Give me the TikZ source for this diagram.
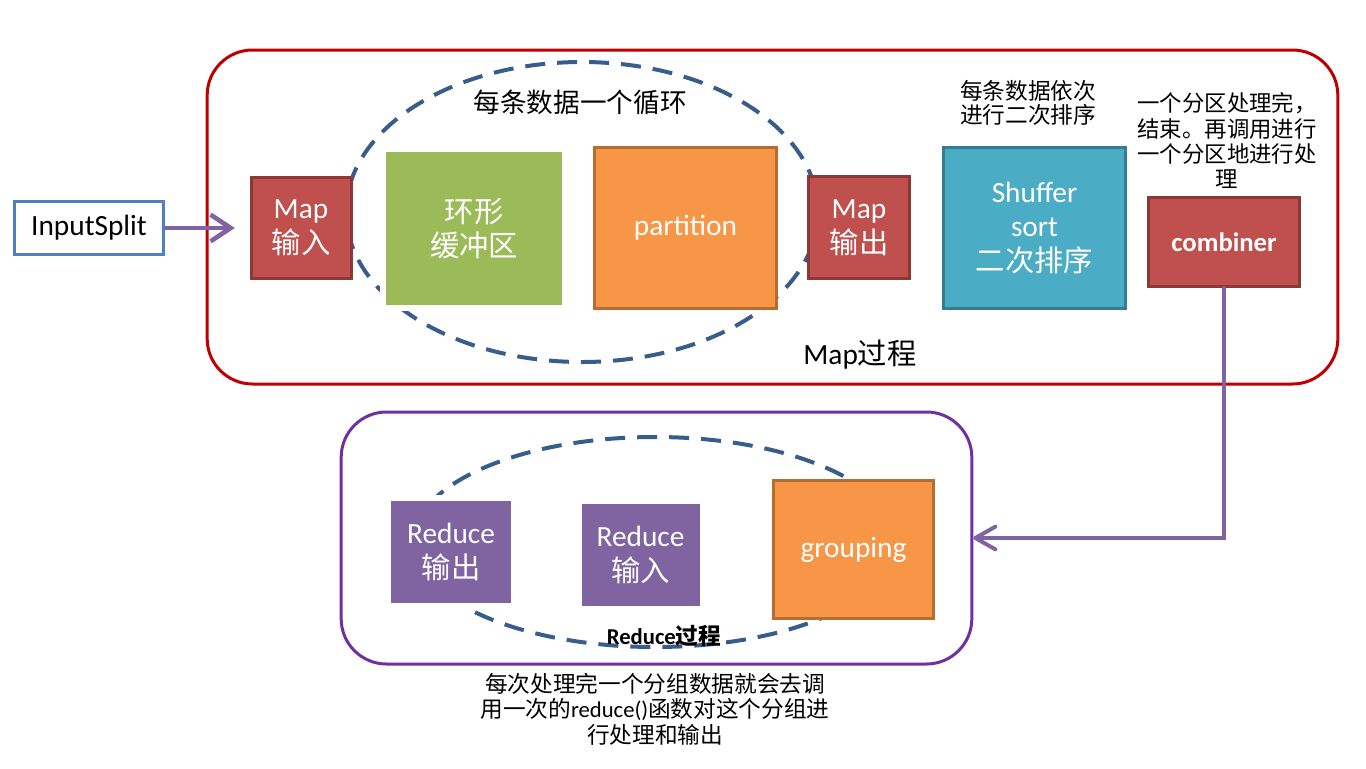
\documentclass[tikz,border=0pt]{standalone}
\usepackage{fontspec}
\setmainfont{Carlito}
\newfontfamily\cjk{Noto Sans CJK SC}
\usetikzlibrary{arrows.meta,shadows,calc}
\definecolor{mapred}{HTML}{C0504D}
\definecolor{mapredb}{HTML}{8C3836}
\definecolor{outred}{HTML}{C00000}
\definecolor{grn}{HTML}{9BBB59}
\definecolor{org}{HTML}{F79646}
\definecolor{orgb}{HTML}{B66D31}
\definecolor{cyn}{HTML}{4BACC6}
\definecolor{cynb}{HTML}{357D91}
\definecolor{pur}{HTML}{8064A2}
\definecolor{purb}{HTML}{7030A0}
\definecolor{blu}{HTML}{4F81BD}
\definecolor{dsh}{HTML}{385D8A}
\begin{document}
\begin{tikzpicture}[x=0.75pt,y=-0.75pt,
  lbl/.style={text=white,align=center,font=\fontsize{22}{26}\selectfont,inner sep=0pt},
  redbox/.style={lbl,fill=mapred,draw=mapredb,line width=2.25pt},
  orgbox/.style={lbl,fill=org,draw=orgb,line width=2.25pt},
  shbox/.style={lbl,fill=#1,draw=white,line width=4.5pt,
    drop shadow={shadow xshift=1pt,shadow yshift=-1.5pt,opacity=0.35,fill=black!70}},
  loop/.style={draw=dsh,line width=3pt,dash pattern=on 15pt off 9pt},
  note/.style={align=center,inner sep=0pt,text=black},
  conn/.style={draw=pur,line width=#1}
]
\useasboundingbox (0,0) rectangle (1366,768);

% outer frames
\node[draw=outred,line width=2.25pt,rounded corners=34pt,minimum width=848pt,minimum height=250.5pt] (mapframe) at (772.5,217) {};
\node[draw=purb,line width=2.25pt,rounded corners=34pt,minimum width=473pt,minimum height=189pt] (redframe) at (656.5,538) {};

% loops
\draw[loop] (582,212) ellipse [x radius=236, y radius=150];
\draw[loop] (655,542) ellipse [x radius=242, y radius=105];

% input
\node[draw=blu,line width=2.25pt,fill=white,minimum width=112pt,minimum height=40pt,font=\fontsize{22}{26}\selectfont,inner sep=0pt] (input) at (89,228) {\raisebox{-2pt}{InputSplit}};

% map boxes
\node[redbox,minimum width=75pt,minimum height=76pt] (mapin) at (301,228) {Map\\{\cjk 输入}};
\node[shbox=grn,minimum width=137pt,minimum height=119pt] (ring) at (474,228.5) {{\cjk 环形}\\{\cjk 缓冲区}};
\node[orgbox,minimum width=136pt,minimum height=121pt] (part) at (685.5,228) {\raisebox{-3pt}{partition}};
\node[redbox,minimum width=76pt,minimum height=77pt] (mapout) at (859,227.5) {Map\\{\cjk 输出}};
\node[lbl,fill=cyn,draw=cynb,line width=2.25pt,minimum width=136pt,minimum height=121pt] (sort) at (1034.5,228) {Shuffer\\sort\\{\cjk 二次排序}};
\node[redbox,minimum width=113pt,minimum height=67pt,font=\fontsize{20}{24}\selectfont\bfseries] (comb) at (1224,242) {combiner};

% reduce boxes
\node[shbox=pur,minimum width=94pt,minimum height=81pt] (redout) at (451,552) {Reduce\\{\cjk 输出}};
\node[shbox=pur,minimum width=93pt,minimum height=81pt] (redin) at (640.5,555) {Reduce\\{\cjk 输入}};
\node[orgbox,minimum width=120pt,minimum height=104pt] (group) at (853.5,549.5) {\raisebox{-3pt}{grouping}};

% notes
\node[note,font=\fontsize{20}{24}\selectfont\cjk] (loopnote) at (580,102) {每条数据一个循环};
\node[note,font=\fontsize{17}{18}\selectfont\cjk] (sortnote) at (1028,103) {每条数据依次\\进行二次排序};
\node[note,font=\fontsize{16.8}{19}\selectfont\cjk] (combnote) at (1227,141) {一个分区处理完，\\结束。再调用进行\\一个分区地进行处\\理};
\node[note,font=\fontsize{22}{26}\selectfont] (maptitle) at (860,355) {Map{\cjk 过程}};
\node[note,font=\fontsize{17}{20}\selectfont\bfseries] (redtitle) at (664,636) {Reduce{\cjk 过程}};
\node[note,font=\fontsize{17}{19}\selectfont\cjk] (rednote) at (655,709) {每次处理完一个分组数据就会去调\\用一次的{\rmfamily reduce()}函数对这个分组进\\行处理和输出};

% connectors
\draw[conn=3.5pt,-{Straight Barb[length=15pt,width=20pt]},shorten >=11pt] (input.east) -- (mapin.west);
\draw[conn=3pt,-{Straight Barb[length=15pt,width=17pt,round]},line cap=round] (comb.south) |- (redframe.east);
\end{tikzpicture}
\end{document}
